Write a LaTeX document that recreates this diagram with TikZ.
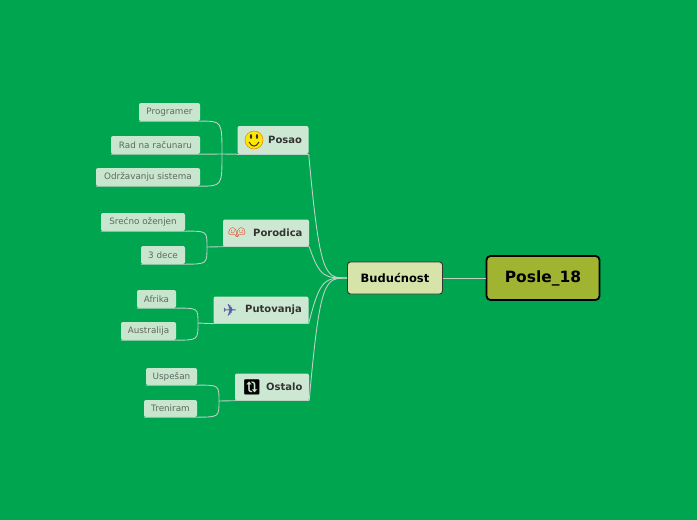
\documentclass[tikz,border=0pt]{standalone}
\usepackage{fontspec}
\setmainfont{DejaVu Sans}
\newfontfamily\emo{Noto Emoji}
\definecolor{bg}{RGB}{0,165,80}
\definecolor{leaffill}{RGB}{200,230,205}
\definecolor{leaftext}{RGB}{95,105,95}
\definecolor{mainfill}{RGB}{205,232,210}
\definecolor{rootfill}{RGB}{160,180,50}
\definecolor{budfill}{RGB}{214,228,170}
\definecolor{wire}{RGB}{190,210,195}
\begin{document}
\begin{tikzpicture}[x=1pt,y=-1pt,
  leaf/.style={fill=leaffill,rounded corners=2pt,font=\fontsize{8.8}{10}\selectfont,text=leaftext,inner sep=0pt,anchor=center},
  mainn/.style={fill=mainfill,rounded corners=2pt,inner sep=0pt,anchor=center},
  mtext/.style={font=\bfseries\fontsize{10}{12}\selectfont,text=black!80,inner sep=0pt},
  wirel/.style={draw=wire,line width=0.9pt}]
\fill[bg] (0,0) rectangle (697,520);
\useasboundingbox (0,0) rectangle (697,520);
% root and center
\node[fill=rootfill,draw=black,line width=1.8pt,rounded corners=4pt,minimum width=113pt,minimum height=44pt,font=\bfseries\fontsize{15.5}{18}\selectfont] (root) at (543,278) {Posle\_18};
\node[fill=budfill,draw=black!80,line width=0.9pt,rounded corners=3pt,minimum width=95pt,minimum height=32pt,font=\bfseries\fontsize{11.5}{13}\selectfont] (bud) at (395,278) {Budućnost};
\draw[wirel] (bud.east) -- (root.west);
% main nodes
\node[mainn,minimum width=71pt,minimum height=28pt] (posao) at (273,140) {};
\node[mtext,anchor=west] at (268,140) {Posao};
\fill[yellow!90!orange,draw=orange!70!brown,line width=0.5pt] (254,140) circle (9);
\fill[black!80] (251,136.5) ellipse (1.2 and 2.4) (257,136.5) ellipse (1.2 and 2.4);
\draw[black!80,line width=1pt] (249,142) .. controls (252,147.5) and (256,147.5) .. (259,142);
\node[mainn,minimum width=86pt,minimum height=27pt] (poro) at (266,233) {};
\node[mtext,anchor=west] at (253,233) {Porodica};
\node[font=\emo\fontsize{14}{14}\selectfont,text=red!60!brown] at (237,233) {👫};
\node[mainn,minimum width=95pt,minimum height=27pt] (puto) at (261,310) {};
\node[mtext,anchor=west] at (245,310) {Putovanja};
\node[font=\fontsize{17}{17}\selectfont,text=blue!30!gray] at (230,310) {✈};
\node[mainn,minimum width=74pt,minimum height=27pt] (ost) at (272,387) {};
\node[mtext,anchor=west] at (266,387) {Ostalo};
\node[font=\emo\fontsize{15}{15}\selectfont] at (252,387) {🔃};
% leaves
\node[leaf,minimum width=61pt,minimum height=18pt] (l1) at (169.5,112) {Programer};
\node[leaf,minimum width=89pt,minimum height=18pt] (l2) at (155.5,145) {Rad na računaru};
\node[leaf,minimum width=104pt,minimum height=18pt] (l3) at (148,177) {Održavanju sistema};
\node[leaf,minimum width=84pt,minimum height=18pt] (l4) at (143,222) {Srećno oženjen};
\node[leaf,minimum width=44pt,minimum height=18pt] (l5) at (163,255) {3 dece};
\node[leaf,minimum width=39pt,minimum height=18pt] (l6) at (156.5,299) {Afrika};
\node[leaf,minimum width=55pt,minimum height=18pt] (l7) at (148.5,331) {Australija};
\node[leaf,minimum width=51pt,minimum height=17pt] (l8) at (171.5,376.5) {Uspešan};
\node[leaf,minimum width=53pt,minimum height=17pt] (l9) at (170.5,408.5) {Treniram};
% center to mains
\foreach \m in {posao,poro,puto,ost}{
  \draw[wirel] (bud.west) .. controls (325,278) and (320,278) .. (\m.south east);
  \draw[wirel] (\m.south east) -- (\m.south west);
}
% leaf brackets
\draw[wirel] (posao.south west) -- (222,154) .. controls (222,121) .. (l1.south east) -- (l1.south west);
\draw[wirel] (222,154) .. controls (222,186) .. (l3.south east) -- (l3.south west);
\draw[wirel] (222,154) -- (l2.south east) -- (l2.south west);
\draw[wirel] (poro.south west) -- (207,247) .. controls (207,231) .. (l4.south east) -- (l4.south west);
\draw[wirel] (207,247) .. controls (207,264) .. (l5.south east) -- (l5.south west);
\draw[wirel] (puto.south west) -- (198,323) .. controls (198,308) .. (l6.south east) -- (l6.south west);
\draw[wirel] (198,323) .. controls (198,340) .. (l7.south east) -- (l7.south west);
\draw[wirel] (ost.south west) -- (219,401) .. controls (219,385) .. (l8.south east) -- (l8.south west);
\draw[wirel] (219,401) .. controls (219,417) .. (l9.south east) -- (l9.south west);
\end{tikzpicture}
\end{document}
